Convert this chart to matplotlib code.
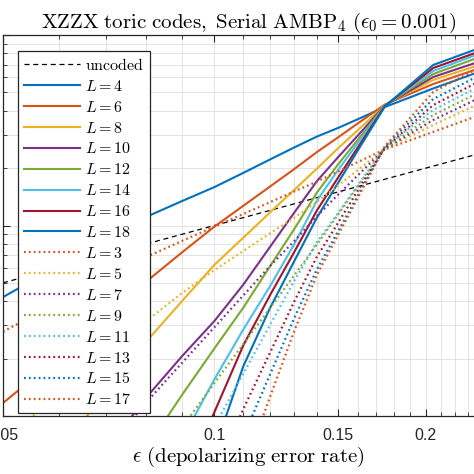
import matplotlib
matplotlib.use("Agg")
import matplotlib.pyplot as plt
from matplotlib.ticker import FixedLocator, NullFormatter, FixedFormatter

plt.rcParams['mathtext.fontset'] = 'cm'

# depolarizing error rate
eps = [0.05, 0.06, 0.07, 0.08, 0.09, 0.10, 0.11, 0.12, 0.13, 0.14, 0.15, 0.16, 0.175, 0.205, 0.25]
uncoded = [0.05, 0.06, 0.07, 0.08, 0.09, 0.10, 0.11, 0.12, 0.13, 0.14, 0.15, 0.16, 0.175, 0.205, 0.25]

# even L (solid)
even_L = [4, 6, 8, 10, 12, 14, 16, 18]
even_vals = [
    [0.0421, 0.0613, 0.0839, 0.111, 0.1345, 0.159, 0.189, 0.222, 0.257, 0.293, 0.325, 0.361, 0.419, 0.524, 0.683],
    [0.0117, 0.0203, 0.0333, 0.0508, 0.0724, 0.0986, 0.127, 0.160, 0.198, 0.243, 0.290, 0.343, 0.432, 0.553, 0.709],
    [0.00281, 0.00651, 0.01325, 0.0246, 0.0402, 0.0621, 0.0864, 0.117, 0.154, 0.199, 0.254, 0.316, 0.429, 0.581, 0.736],
    [0.00131, 0.00314, 0.00658, 0.01252, 0.02065, 0.0315, 0.049, 0.0771, 0.117, 0.171, 0.228, 0.296, 0.427, 0.602, 0.768],
    [0.000505, 0.00138, 0.00323, 0.00676, 0.01295, 0.0226, 0.0371, 0.061, 0.0959, 0.149, 0.209, 0.281, 0.427, 0.624, 0.815],
    [0.000153, 0.000514, 0.00143, 0.00347, 0.00757, 0.01555, 0.0285, 0.0479, 0.0799, 0.135, 0.195, 0.270, 0.425, 0.647, 0.851],
    [2.95e-5, 0.000139, 0.000512, 0.00158, 0.0043, 0.01046, 0.02354, 0.043, 0.0727, 0.120, 0.178, 0.256, 0.424, 0.671, 0.872],
    [4.0e-6, 2.84e-5, 0.000147, 0.000613, 0.00215, 0.00663, 0.0183, 0.0368, 0.0651, 0.110, 0.167, 0.247, 0.422, 0.696, 0.909],
]

# odd L (dotted)
odd_L = [3, 5, 7, 9, 11, 13, 15, 17]
odd_vals = [
    [0.0277, 0.0398, 0.0541, 0.0683, 0.0831, 0.0986, 0.115, 0.1325, 0.151, 0.170, 0.192, 0.215, 0.251, 0.310, 0.404],
    [0.0074, 0.01297, 0.0209, 0.0315, 0.0443, 0.0583, 0.0735, 0.0909, 0.110, 0.133, 0.162, 0.195, 0.253, 0.337, 0.473],
    [0.00148, 0.0033, 0.00653, 0.01179, 0.01906, 0.0292, 0.043, 0.0612, 0.0829, 0.112, 0.145, 0.183, 0.253, 0.358, 0.508],
    [0.000421, 0.00108, 0.0024, 0.00478, 0.00875, 0.01487, 0.0239, 0.0368, 0.0548, 0.0795, 0.114, 0.160, 0.254, 0.380, 0.546],
    [5.27e-5, 0.000202, 0.000628, 0.00169, 0.00401, 0.00878, 0.01673, 0.030, 0.0513, 0.0817, 0.116, 0.162, 0.258, 0.404, 0.588],
    [1.03e-5, 5.2e-5, 0.000203, 0.000659, 0.00187, 0.0049, 0.0109, 0.02145, 0.040, 0.0686, 0.103, 0.152, 0.255, 0.429, 0.624],
    [4.0e-6, 2.29e-5, 0.0001, 0.00036, 0.00111, 0.00321, 0.0078, 0.01647, 0.0327, 0.0589, 0.093, 0.143, 0.260, 0.461, 0.671],
    [8e-7, 6e-6, 3.3e-5, 0.000146, 0.000537, 0.00182, 0.00514, 0.01256, 0.028, 0.0551, 0.0888, 0.139, 0.261, 0.502, 0.739],
]

# matlab default colour order
mcolors = ['#0072BD', '#D95319', '#EDB120', '#7E2F8E', '#77AC30', '#4DBEEE', '#A2142F']

fig = plt.figure(figsize=(4.74, 4.74), dpi=100)
ax = fig.add_axes([3/474, 58/474, 490.7/474, 381/474])

ax.plot(eps, uncoded, '--', color='k', lw=0.9, dashes=(4, 3), label=r'$\mathrm{uncoded}$')
k = 0
for L, v in zip(even_L, even_vals):
    ax.plot(eps, v, '-', color=mcolors[k % 7], lw=1.5, label=r'$L{=}%d$' % L)
    k += 1
for L, v in zip(odd_L, odd_vals):
    ax.plot(eps, v, color=mcolors[k % 7], lw=1.6, linestyle=(0, (0.8, 1.4)),
            label=r'$L{=}%d$' % L)
    k += 1

ax.set_xscale('log')
ax.set_yscale('log')
ax.set_xlim(0.05, 0.25)
ax.set_ylim(0.01, 1)

xt = [0.05, 0.1, 0.15, 0.2, 0.25]
ax.xaxis.set_major_locator(FixedLocator(xt))
ax.xaxis.set_major_formatter(FixedFormatter(['0.05', '0.1', '0.15', '0.2', '0.25']))
ax.xaxis.set_minor_locator(FixedLocator([0.01 * i for i in range(5, 26)]))
ax.xaxis.set_minor_formatter(NullFormatter())
ax.tick_params(which='both', direction='in', top=True, right=True, color='#262626')
ax.tick_params(which='major', length=5, width=0.8)
ax.tick_params(which='minor', length=3, width=0.6)
ax.tick_params(axis='x', labelsize=11.5, pad=9, labelcolor='#262626')
ax.tick_params(axis='y', labelleft=False)
for t in ax.get_xticklabels():
    t.set_family('Liberation Sans')

ax.grid(True, which='both', color='#dedede', lw=0.6)
ax.set_axisbelow(True)
for s in ax.spines.values():
    s.set_color('#262626')
    s.set_linewidth(0.9)

ax.set_xlabel(r'$\epsilon\ \mathrm{(depolarizing\ error\ rate)}$', fontsize=15, labelpad=1)
ax.set_title(r'$\mathrm{XZZX\ toric\ codes,\ Serial\ AMBP}_4\ (\epsilon_0 = 0.001)$',
             fontsize=15, pad=5)

leg = ax.legend(loc='lower left', bbox_to_anchor=(0.0306, 0.008), borderaxespad=0,
                fontsize=11.5, frameon=True, fancybox=False, edgecolor='#262626',
                framealpha=1, handlelength=3.5, labelspacing=0.37, borderpad=0.35,
                handletextpad=0.35)
leg.get_frame().set_linewidth(0.9)

fig.savefig('out.png', dpi=100)
